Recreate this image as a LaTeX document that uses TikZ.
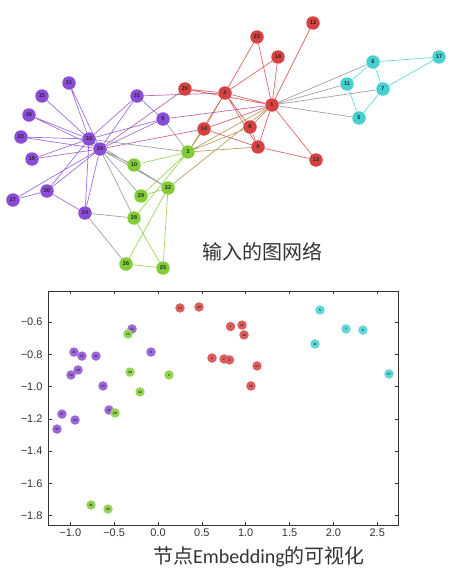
\documentclass[tikz,border=0pt]{standalone}
\usepackage{fontspec}
\setmainfont{Liberation Sans}
\newfontfamily\cjk{Noto Sans CJK SC}
\newfontfamily\carl{Carlito}
\usetikzlibrary{backgrounds}
\definecolor{kred}{RGB}{214,66,66}
\definecolor{kpur}{RGB}{138,76,214}
\definecolor{kgrn}{RGB}{130,204,56}
\definecolor{kcyn}{RGB}{70,208,208}
\definecolor{txtgray}{RGB}{51,51,51}
\tikzset{
  vtx/.style={circle,inner sep=0pt,minimum size=13.5pt,text=black!85,font=\fontsize{5.5}{5.5}\selectfont\bfseries},
  rv/.style={vtx,fill=kred},
  pv/.style={vtx,fill=kpur},
  gv/.style={vtx,fill=kgrn},
  cv/.style={vtx,fill=kcyn},
  edg/.style={line width=0.7pt,opacity=0.8},
  rr/.style={edg,draw=kred},
  cc/.style={edg,draw=kcyn},
  gg/.style={edg,draw=kgrn},
  pp/.style={edg,draw=kpur},
  rc/.style={edg,draw=kred!50!kcyn},
  rg/.style={edg,draw=kred!50!kgrn},
  rp/.style={edg,draw=kred!50!kpur},
  gp/.style={edg,draw=kgrn!50!kpur},
  pt/.style={circle,inner sep=0pt,minimum size=9.5pt,text=black!85,font=\fontsize{3.2}{3.2}\selectfont\bfseries},
  rs/.style={pt,fill=kred!85!white},
  ps/.style={pt,fill=kpur!85!white},
  gs/.style={pt,fill=kgrn!85!white},
  cs/.style={pt,fill=kcyn!85!white},
  ttl/.style={text=txtgray,font=\fontsize{20}{20}\selectfont},
  tick/.style={text=txtgray,font=\fontsize{11}{11}\selectfont}
}
\begin{document}
\begin{tikzpicture}[x=1pt,y=-1pt]
\useasboundingbox (0,0) rectangle (474,586);
\node[rv] (v1) at (272,105) {1};
\node[rv] (v2) at (225,93) {2};
\node[gv] (v3) at (188,152) {3};
\node[rv] (v4) at (258,147) {4};
\node[cv] (v5) at (359,118) {5};
\node[cv] (v6) at (373,62) {6};
\node[cv] (v7) at (383,89) {7};
\node[rv] (v8) at (250,127) {8};
\node[pv] (v9) at (163,119) {9};
\node[gv] (v10) at (134,165) {10};
\node[cv] (v11) at (347,84) {11};
\node[rv] (v12) at (313,23) {12};
\node[rv] (v13) at (316,160) {13};
\node[rv] (v14) at (204,129) {14};
\node[pv] (v15) at (42,96) {15};
\node[pv] (v16) at (29,115) {16};
\node[cv] (v17) at (439,57) {17};
\node[rv] (v18) at (278,57) {18};
\node[pv] (v19) at (32,159) {19};
\node[rv] (v20) at (185,89) {20};
\node[pv] (v21) at (69,83) {21};
\node[rv] (v22) at (257,37) {22};
\node[pv] (v23) at (21,137) {23};
\node[pv] (v24) at (85,213) {24};
\node[gv] (v25) at (163,268) {25};
\node[gv] (v26) at (126,264) {26};
\node[pv] (v27) at (13,200) {27};
\node[gv] (v28) at (134,218) {28};
\node[gv] (v29) at (141,196) {29};
\node[pv] (v30) at (47,191) {30};
\node[pv] (v31) at (137,96) {31};
\node[gv] (v32) at (168,188) {32};
\node[pv] (v33) at (89,139) {33};
\node[pv] (v34) at (100,149) {34};
\begin{pgfonlayer}{background}
\draw[rr] (v1)--(v2) (v1)--(v4) (v1)--(v8) (v1)--(v12) (v1)--(v13) (v1)--(v14) (v1)--(v18) (v1)--(v20) (v1)--(v22) (v2)--(v4) (v2)--(v8) (v2)--(v14) (v2)--(v18) (v2)--(v20) (v2)--(v22) (v4)--(v8) (v4)--(v13) (v4)--(v14);
\draw[rc] (v1)--(v5) (v1)--(v6) (v1)--(v7) (v1)--(v11);
\draw[rg] (v1)--(v3) (v1)--(v32) (v2)--(v3) (v3)--(v4) (v3)--(v8) (v3)--(v14);
\draw[rp] (v1)--(v9) (v2)--(v31) (v14)--(v34) (v20)--(v34);
\draw[cc] (v5)--(v7) (v5)--(v11) (v6)--(v7) (v6)--(v11) (v6)--(v17) (v7)--(v17);
\draw[gg] (v3)--(v10) (v3)--(v28) (v3)--(v29) (v25)--(v26) (v25)--(v28) (v25)--(v32) (v26)--(v32) (v29)--(v32);
\draw[gp] (v3)--(v9) (v3)--(v33) (v10)--(v34) (v24)--(v26) (v24)--(v28) (v28)--(v34) (v29)--(v34) (v32)--(v33) (v32)--(v34);
\draw[pp] (v9)--(v31) (v9)--(v33) (v9)--(v34) (v15)--(v33) (v15)--(v34) (v16)--(v33) (v16)--(v34) (v19)--(v33) (v19)--(v34) (v21)--(v33) (v21)--(v34) (v23)--(v33) (v23)--(v34) (v24)--(v30) (v24)--(v33) (v24)--(v34) (v27)--(v30) (v27)--(v34) (v30)--(v33) (v30)--(v34) (v31)--(v33) (v31)--(v34) (v33)--(v34);
\end{pgfonlayer}
\node[ttl] (t1) at (262,252) {\cjk 输入的图网络};
\begin{scope}[shift={(158pt,-225.1pt)},x=87.7pt,y=161.5pt]
\draw[txtgray,line width=0.9pt] (-1.254,-1.857) rectangle (2.737,-0.408);
\foreach \xv/\xl in {-1/−1.0,-0.5/−0.5,0/0.0,0.5/0.5,1/1.0,1.5/1.5,2/2.0,2.5/2.5}{
  \draw[txtgray,line width=0.7pt] (\xv,-1.857) -- ++(0,3.5pt) (\xv,-0.408) -- ++(0,-3.5pt);
  \node[tick,below] at (\xv,-1.857) {\xl};
}
\foreach \yv/\yl in {-0.6/−0.6,-0.8/−0.8,-1/−1.0,-1.2/−1.2,-1.4/−1.4,-1.6/−1.6,-1.8/−1.8}{
  \draw[txtgray,line width=0.7pt] (-1.254,\yv) -- ++(3.5pt,0) (2.737,\yv) -- ++(-3.5pt,0);
  \node[tick,left=2pt] at (-1.254,\yv) {\yl};
}
\node[rs] (s14) at (0.251,-0.513) {14};
\node[rs] (s20) at (0.468,-0.507) {20};
\node[rs] (s1) at (0.827,-0.628) {1};
\node[rs] (s22) at (0.958,-0.619) {22};
\node[rs] (s18) at (0.981,-0.680) {18};
\node[rs] (s4) at (0.616,-0.823) {4};
\node[rs] (s2) at (0.753,-0.829) {2};
\node[rs] (s8) at (0.815,-0.835) {8};
\node[rs] (s12) at (1.129,-0.872) {12};
\node[rs] (s13) at (1.060,-0.996) {13};
\node[cs] (s5) at (1.847,-0.526) {5};
\node[cs] (s7) at (2.144,-0.643) {7};
\node[cs] (s6) at (2.337,-0.650) {6};
\node[cs] (s11) at (1.790,-0.736) {11};
\node[cs] (s17) at (2.634,-0.922) {17};
\node[ps] (s31) at (-0.296,-0.643) {31};
\node[gs] (s10) at (-0.342,-0.674) {10};
\node[ps] (s21) at (-0.958,-0.786) {21};
\node[ps] (s15) at (-0.867,-0.811) {15};
\node[ps] (s23) at (-0.707,-0.811) {23};
\node[ps] (s9) at (-0.080,-0.786) {9};
\node[ps] (s16) at (-0.992,-0.928) {16};
\node[ps] (s19) at (-0.912,-0.897) {19};
\node[gs] (s29) at (-0.319,-0.910) {29};
\node[gs] (s3) at (0.125,-0.928) {3};
\node[ps] (s33) at (-0.627,-0.996) {33};
\node[gs] (s32) at (-0.205,-1.033) {32};
\node[ps] (s34) at (-0.559,-1.145) {34};
\node[gs] (s28) at (-0.490,-1.163) {28};
\node[ps] (s27) at (-1.095,-1.170) {27};
\node[ps] (s24) at (-0.946,-1.207) {24};
\node[ps] (s30) at (-1.152,-1.263) {30};
\node[gs] (s26) at (-0.764,-1.733) {26};
\node[gs] (s25) at (-0.570,-1.758) {25};
\end{scope}
\node[ttl] (t2) at (259,557) {\cjk 节点\carl Embedding\cjk 的可视化};
\end{tikzpicture}
\end{document}
